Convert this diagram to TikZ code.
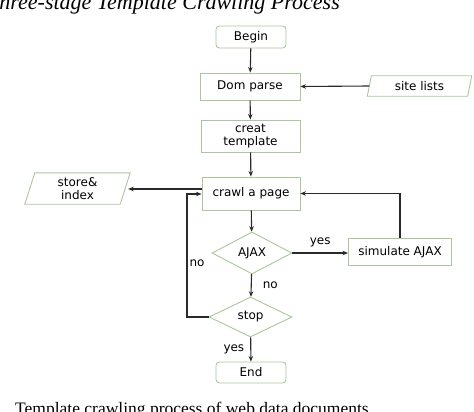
\documentclass[tikz,border=0pt]{standalone}
\usepackage{fontspec}
\setmainfont{DejaVu Sans}
\newfontfamily\serifit{Liberation Serif}
\usetikzlibrary{arrows.meta,shapes.geometric}
\definecolor{boxgreen}{HTML}{A9C79B}
\definecolor{lineblk}{HTML}{2A2A2A}
\tikzset{
  base/.style={font=\fontsize{12}{13.5}\selectfont, text=black, inner sep=0pt, align=center},
  proc/.style={base, draw=boxgreen, line width=0.9pt, fill=white},
  term/.style={proc, rounded corners=3.5pt},
  dec/.style={base, draw=boxgreen, line width=0.9pt, diamond, aspect=2},
  iobox/.style={base, draw=none},
  conn/.style={draw=lineblk, line width=1.1pt, -{Stealth[length=5.5pt,width=4.5pt]}},
  plain/.style={draw=lineblk, line width=1.1pt},
  lbl/.style={base}
}
\begin{document}
\begin{tikzpicture}[x=1pt,y=-1pt]
\useasboundingbox (0,0) rectangle (474,412);
\clip (0,0) rectangle (474,412);
% title and caption (cropped in the original)
\node[anchor=base east, font=\serifit\itshape\fontsize{22}{24}\selectfont, inner sep=0pt] (title) at (340,9.5) {Three-stage Template Crawling Process};
\node[anchor=base west, font=\serifit\fontsize{17.5}{19}\selectfont, inner sep=0pt] (caption) at (15,414.5) {Template crawling process of web data documents};

% nodes
\node[term, minimum width=70pt, minimum height=22pt] (begin) at (251,37) {Begin};
\node[proc, minimum width=100pt, minimum height=27pt] (dom) at (250,86.5) {Dom parse};
\node[proc, minimum width=99pt, minimum height=32pt] (tmpl) at (250.5,136) {creat\\template};
\node[proc, minimum width=98pt, minimum height=33pt] (crawl) at (251,193.5) {crawl a page};
\node[dec, minimum width=80pt, minimum height=42pt, aspect=1.9] (ajax) at (252,253) {AJAX};
\node[proc, minimum width=103pt, minimum height=27pt] (sim) at (400,252) {simulate AJAX};
\node[dec, minimum width=83pt, minimum height=40pt, aspect=2.1] (stop) at (250.5,317) {stop};
\node[term, minimum width=70pt, minimum height=21pt] (end) at (251,372.5) {End};

\node[iobox, minimum width=100pt, minimum height=20pt] (site) at (419.5,86) {site lists};
\draw[draw=boxgreen, line width=0.9pt]
  ([xshift=2pt]site.north west) -- ([xshift=2pt]site.north east) --
  ([xshift=-2pt]site.south east) -- ([xshift=-2pt]site.south west) -- cycle;

\node[iobox, minimum width=95pt, minimum height=31pt] (store) at (77.5,188.5) {store\&\\index};
\draw[draw=boxgreen, line width=0.9pt]
  ([xshift=5pt]store.north west) -- ([xshift=5pt]store.north east) --
  ([xshift=-5pt]store.south east) -- ([xshift=-5pt]store.south west) -- cycle;

% connectors
\draw[conn] (begin) -- (dom);
\draw[conn] (site.west) -- (dom.east);
\draw[conn] (dom) -- (tmpl);
\draw[conn] (tmpl) -- (crawl);
\draw[conn] (crawl.west |- 0,189) -- ([xshift=3pt]store.east |- 0,189);
\draw[conn] (crawl) -- (ajax);
\draw[conn] (ajax.east) -- (sim.west |- ajax.east) node[lbl, midway, above=5pt] (yes1) {yes};
\draw[conn] (sim.north) |- (crawl.east);
\draw[conn] (ajax) -- (stop) node[lbl, midway, right=11pt] (no1) {no};
\draw[conn] (stop) -- (end) node[lbl, midway, left=6pt] (yes2) {yes};
\coordinate (loopb) at (187,317);
\coordinate (loopt) at (187,194);
\draw[conn] (stop.west) -- (loopb) -- (loopt) -- (crawl.west |- loopt);
\node[lbl] (no2) at (197,263) {no};
\end{tikzpicture}
\end{document}
